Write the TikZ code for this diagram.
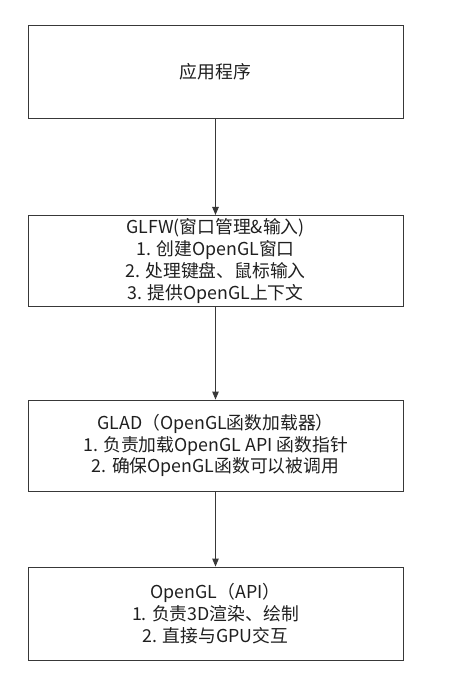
\documentclass[tikz,border=0pt]{standalone}
\usepackage{fontspec}
\setmainfont{Noto Sans CJK SC}
\usetikzlibrary{arrows.meta,positioning}

\begin{document}
\begin{tikzpicture}[x=1pt, y=-1pt,
    layer/.style={draw=black!78, line width=0.9pt, minimum width=375pt, align=center,
        font=\fontsize{17.8}{21.8}\selectfont, text=black!88},
    flow/.style={-{Triangle[length=8pt,width=6.5pt]}, draw=black!78, line width=0.9pt}]
    \useasboundingbox (0,0) rectangle (474,697);

    % Application
    \node [layer, minimum height=93pt] (app) at (215.5,71.5) {应用程序};

    % GLFW
    \node [layer, minimum height=88pt] (glfw) at (215.5,261) {GLFW(窗口管理\&输入)\\1. 创建OpenGL窗口\\2. 处理键盘、鼠标输入\\3. 提供OpenGL上下文};

    % GLAD
    \node [layer, minimum height=91pt] (glad) at (215.5,445.5) {GLAD（OpenGL函数加载器）\\1. 负责加载OpenGL API 函数指针\\2. 确保OpenGL函数可以被调用};

    % OpenGL
    \node [layer, minimum height=93pt] (gl) at (215.5,613.5) {OpenGL（API）\\1. 负责3D渲染、绘制\\2. 直接与GPU交互};

    % Arrows
    \draw [flow] (app) -- (glfw);
    \draw [flow] (glfw) -- (glad);
    \draw [flow] (glad) -- (gl);
\end{tikzpicture}
\end{document}
